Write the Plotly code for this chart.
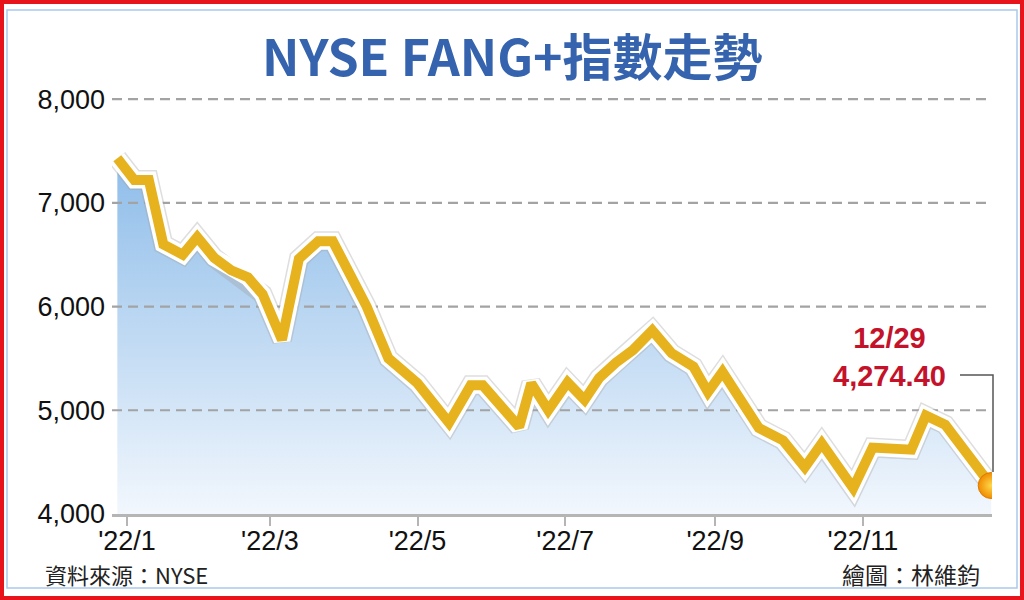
import plotly.graph_objects as go

# ---- data ----
dates = ["2021-12-28", "2022-01-04", "2022-01-10", "2022-01-16", "2022-01-24", "2022-01-30",
         "2022-02-06", "2022-02-13", "2022-02-20", "2022-02-26", "2022-03-06", "2022-03-13",
         "2022-03-21", "2022-03-27", "2022-04-10", "2022-04-19", "2022-05-01", "2022-05-14",
         "2022-05-23", "2022-05-28", "2022-06-12", "2022-06-17", "2022-06-24", "2022-07-02",
         "2022-07-09", "2022-07-15", "2022-07-22", "2022-07-29", "2022-08-06", "2022-08-14",
         "2022-08-23", "2022-08-29", "2022-09-04", "2022-09-19", "2022-09-29", "2022-10-08",
         "2022-10-15", "2022-10-28", "2022-11-05", "2022-11-21", "2022-11-27", "2022-12-05",
         "2022-12-24"]
values = [7430, 7220, 7220, 6600, 6500, 6670,
          6470, 6350, 6280, 6120, 5680, 6460,
          6630, 6630, 6000, 5500, 5260, 4880,
          5240, 5240, 4840, 5260, 5000, 5270,
          5100, 5310, 5460, 5580, 5770, 5550,
          5420, 5175, 5370, 4830, 4710, 4450,
          4680, 4250, 4640, 4620, 4950, 4860,
          4274.40]
tick_dates = ["2022-01-01", "2022-03-01", "2022-05-01", "2022-07-01", "2022-09-01", "2022-11-01"]
tick_labels = ["'22/1", "'22/3", "'22/5", "'22/7", "'22/9", "'22/11"]
y_ticks = [4000, 5000, 6000, 7000, 8000]
last_label = "12/29<br>4,274.40"

title_text = "NYSE FANG+指數走勢"
source_text = "資料來源：NYSE"
credit_text = "繪圖：林維鈞"

# ---- layout geometry ----
W, H = 1024, 600
L, R, T, B = 112, 32, 97, 86
PW, PH = W - L - R, H - T - B
X_RANGE = ["2021-12-25 19:00", "2022-12-24 08:00"]
Y_RANGE = [4000, 8020]


def px(x):
    return (x - L) / PW


def py(y):
    return (H - B - y) / PH


GOLD = "#e6b21e"
SANS = "Liberation Sans, Arial, sans-serif"
CJK = "Noto Sans CJK TC, Noto Sans CJK SC, sans-serif"

fig = go.Figure()

# gradient area
fig.add_trace(go.Scatter(
    x=dates, y=values, mode="lines", line=dict(width=0, color="rgba(0,0,0,0)"),
    fill="tozeroy",
    fillgradient=dict(type="vertical", start=4000, stop=7450,
                      colorscale=[[0, "#f2f7fd"], [1, "#8dbce9"]]),
    hoverinfo="skip", showlegend=False))

# dashed grid drawn above the area but below the line (y-axis ticks except the base)
gx, gy = [], []
for v in y_ticks[1:]:
    gx += [X_RANGE[0], X_RANGE[1], None]
    gy += [v, v, None]
fig.add_trace(go.Scatter(x=gx, y=gy, mode="lines",
                         line=dict(width=2.2, color="#a3a3a3", dash="10px,6px"),
                         hoverinfo="skip", showlegend=False, cliponaxis=False))

# halo / shadow and gold line
fig.add_trace(go.Scatter(x=dates, y=values, mode="lines",
                         line=dict(width=20, color="rgba(160,160,160,0.35)"),
                         hoverinfo="skip", showlegend=False))
fig.add_trace(go.Scatter(x=dates, y=values, mode="lines",
                         line=dict(width=17, color="white"),
                         hoverinfo="skip", showlegend=False))
fig.add_trace(go.Scatter(x=dates, y=values, mode="lines",
                         line=dict(width=10, color=GOLD),
                         showlegend=False))

# end dot
fig.add_trace(go.Scatter(
    x=[dates[-1]], y=[values[-1]], mode="markers",
    marker=dict(size=26, color="#f08c00",
                gradient=dict(type="radial", color="#ffd84a"),
                line=dict(width=1, color="#e07a00")),
    showlegend=False))

fig.update_xaxes(
    type="date", range=X_RANGE,
    tickvals=tick_dates, ticktext=tick_labels,
    showgrid=False, showline=True, linecolor="#b5b5b5", linewidth=3,
    ticks="outside", ticklen=9, tickwidth=2, tickcolor="#b5b5b5",
    tickfont=dict(family=SANS, size=27, color="#111111"),
    ticklabelstandoff=-8,
    zeroline=False, fixedrange=True)

fig.update_yaxes(
    range=Y_RANGE, tickvals=y_ticks, tickformat=",",
    showgrid=False, showline=False, zeroline=False, ticks="",
    tickfont=dict(family=SANS, size=27, color="#111111"),
    ticklabelstandoff=6, fixedrange=True)

shapes = [
    # outer red border
    dict(type="rect", xref="paper", yref="paper", x0=px(2), x1=px(W - 2), y0=py(2), y1=py(H - 2),
         line=dict(color="#e8141c", width=4), layer="below"),
    # inner light-blue border
    dict(type="rect", xref="paper", yref="paper", x0=px(7), x1=px(W - 7), y0=py(10), y1=py(588),
         line=dict(color="#a9c9ec", width=1.5), layer="below"),
    # leader line to last point
    dict(type="path", xref="paper", yref="paper",
         path=f"M {px(960)} {py(375)} L {px(993)} {py(375)} L {px(993)} {py(472)}",
         line=dict(color="#555555", width=1.5)),
]

annotations = [
    dict(text=f"<b>{title_text}</b>", xref="paper", yref="paper", x=px(512), y=py(54),
         xanchor="center", yanchor="middle", showarrow=False,
         font=dict(family=CJK, size=50, color="#3563ad")),
    dict(text=f"<b>{last_label}</b>", xref="paper", yref="paper", x=px(889), y=py(357),
         xanchor="center", yanchor="middle", showarrow=False, align="center",
         font=dict(family=SANS, size=29, color="#c4122a")),
    dict(text=source_text, xref="paper", yref="paper", x=px(43), y=py(574),
         xanchor="left", yanchor="middle", showarrow=False,
         font=dict(family=CJK, size=22, color="#222222")),
    dict(text=credit_text, xref="paper", yref="paper", x=px(982), y=py(574),
         xanchor="right", yanchor="middle", showarrow=False,
         font=dict(family=CJK, size=23, color="#222222")),
]

fig.update_layout(
    width=W, height=H,
    margin=dict(l=L, r=R, t=T, b=B),
    paper_bgcolor="white", plot_bgcolor="white",
    shapes=shapes, annotations=annotations,
    showlegend=False,
)

fig.write_html("out.html", config={"displayModeBar": False},
               post_script="document.body.style.margin='0';")
